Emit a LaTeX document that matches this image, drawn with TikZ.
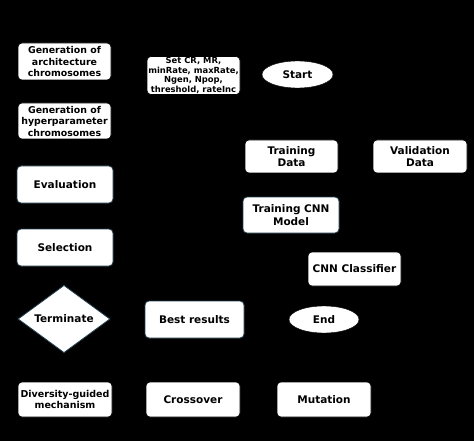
\documentclass[tikz,border=0pt]{standalone}
\usepackage{fontspec}
\setmainfont{DejaVu Sans}
\usetikzlibrary{shapes.geometric}
\definecolor{edge}{HTML}{22404F}
\begin{document}
\begin{tikzpicture}[x=1pt,y=-1pt,
  box/.style={draw=black,line width=0.6pt,fill=white,rounded corners=4pt,inner sep=0pt,align=center,
    font=\fontsize{10.5}{12.5}\selectfont\bfseries,text=black,minimum width=93pt,minimum height=36pt},
  ebox/.style={box,draw=edge,line width=0.8pt},
  oval/.style={ellipse,draw=black,fill=white,inner sep=0pt,minimum width=71pt,minimum height=27pt,
    font=\fontsize{10.5}{12.5}\selectfont\bfseries},
  dec/.style={diamond,draw=edge,line width=0.8pt,fill=white,inner sep=0pt,minimum width=92pt,minimum height=66pt,
    font=\fontsize{10.5}{12.5}\selectfont\bfseries}]
\fill[black] (0,0) rectangle (474,441);
\useasboundingbox (0,0) rectangle (474,441);
\node[box,minimum height=37pt,font=\fontsize{9.4}{11.5}\selectfont\bfseries] (arch) at (64.5,61.5) {Generation of\\architecture\\chromosomes};
\node[box,font=\fontsize{9.4}{11.5}\selectfont\bfseries] (hyper) at (64.5,121) {Generation of\\hyperparameter\\chromosomes};
\node[box,minimum height=38pt,font=\fontsize{8.4}{9.7}\selectfont\bfseries] (set) at (193.5,75.5) {Set CR, MR,\\minRate, maxRate,\\Ngen, Npop,\\threshold, rateInc};
\node[oval] (start) at (297.5,74.5) {Start};
\node[box,minimum height=33pt] (train) at (291.5,156.5) {Training\\Data};
\node[box,minimum width=94pt,minimum height=33pt] (valid) at (420,156.5) {Validation\\Data};
\node[ebox,minimum width=96pt,minimum height=37pt] (eval) at (65,184.5) {Evaluation};
\node[ebox,minimum width=96pt,minimum height=37pt] (sel) at (65,247.5) {Selection};
\node[ebox,minimum width=96pt,minimum height=36pt] (cnn) at (291,215) {Training CNN\\Model};
\node[box,minimum height=34pt] (cls) at (354.5,269) {CNN Classifier};
\node[dec] (term) at (64,319) {Terminate};
\node[ebox,minimum width=99pt,minimum height=37pt] (best) at (194.5,319.5) {Best results};
\node[oval,minimum width=70pt] (end) at (324,319.5) {End};
\node[box,minimum width=94pt,minimum height=35pt,font=\fontsize{9.5}{11.7}\selectfont\bfseries] (div) at (65,399.5) {Diversity-guided\\mechanism};
\node[box,minimum width=94pt,minimum height=35pt] (cross) at (193,399.5) {Crossover};
\node[box,minimum width=94pt,minimum height=35pt] (mut) at (324,399.5) {Mutation};
\end{tikzpicture}
\end{document}
